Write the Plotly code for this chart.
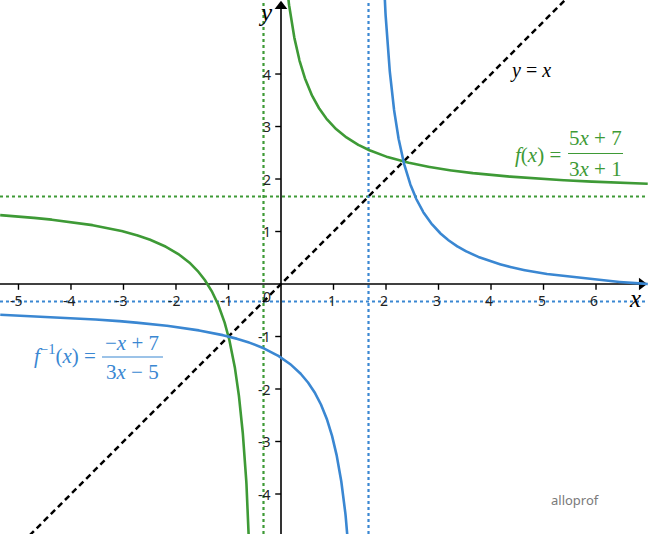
import numpy as np
import plotly.graph_objects as go

# Function coefficients (as shown in the labels)
f_num = [5, 7]      # 5x + 7
f_den = [3, 1]      # 3x + 1
finv_num = [-1, 7]  # -x + 7
finv_den = [3, -5]  # 3x - 5

x_ticks = [-5, -4, -3, -2, -1, 1, 2, 3, 4, 5, 6]
y_ticks = [-4, -3, -2, -1, 1, 2, 3, 4]

X_RANGE = [-5.352, 6.990]
Y_RANGE = [-4.762, 5.410]

GREEN = "#3e9a36"
BLUE = "#3a87d2"
BLACK = "#000000"


def rational_curve(num, den, xmin, xmax, ylim=40, n=1500):
    a, b = num
    c, d = den
    asym = -d / c
    xs_all, ys_all = [], []
    for lo, hi in [(xmin, asym), (asym, xmax)]:
        xs = np.linspace(lo, hi, n)[1:-1]
        ys = (a * xs + b) / (c * xs + d)
        m = np.abs(ys) < ylim
        xs_all += list(xs[m]) + [None]
        ys_all += list(ys[m]) + [None]
    return xs_all, ys_all


fig = go.Figure()

# asymptotes
fh = f_num[0] / f_den[0]
fv = -f_den[1] / f_den[0]
gh = finv_num[0] / finv_den[0]
gv = -finv_den[1] / finv_den[0]
dot = dict(width=2.2, dash="dot")
fig.add_trace(go.Scatter(x=[fv, fv], y=Y_RANGE, mode="lines", line=dict(color=GREEN, **dot), hoverinfo="skip"))
fig.add_trace(go.Scatter(x=X_RANGE, y=[fh, fh], mode="lines", line=dict(color=GREEN, **dot), hoverinfo="skip"))
fig.add_trace(go.Scatter(x=[gv, gv], y=Y_RANGE, mode="lines", line=dict(color=BLUE, **dot), hoverinfo="skip"))
fig.add_trace(go.Scatter(x=X_RANGE, y=[gh, gh], mode="lines", line=dict(color=BLUE, **dot), hoverinfo="skip"))

# axes
fig.add_trace(go.Scatter(x=[X_RANGE[0], X_RANGE[1] - 0.05], y=[0, 0], mode="lines",
                         line=dict(color=BLACK, width=1.6), hoverinfo="skip"))
fig.add_trace(go.Scatter(x=[0, 0], y=[Y_RANGE[0], Y_RANGE[1] - 0.05], mode="lines",
                         line=dict(color=BLACK, width=1.6), hoverinfo="skip"))
fig.add_trace(go.Scatter(x=[X_RANGE[1] - 0.12], y=[0], mode="markers", cliponaxis=False,
                         marker=dict(symbol="triangle-right", size=11, color=BLACK), hoverinfo="skip"))
fig.add_trace(go.Scatter(x=[0], y=[Y_RANGE[1] - 0.12], mode="markers", cliponaxis=False,
                         marker=dict(symbol="triangle-up", size=11, color=BLACK), hoverinfo="skip"))

# y = x
fig.add_trace(go.Scatter(x=[-6, 7], y=[-6, 7], mode="lines",
                         line=dict(color=BLACK, width=2.5, dash="6px,4px"), hoverinfo="skip"))

# curves
fx, fy = rational_curve(f_num, f_den, X_RANGE[0], X_RANGE[1])
fig.add_trace(go.Scatter(x=fx, y=fy, mode="lines", line=dict(color=GREEN, width=2.6), hoverinfo="skip"))
gx, gy = rational_curve(finv_num, finv_den, X_RANGE[0], X_RANGE[1])
fig.add_trace(go.Scatter(x=gx, y=gy, mode="lines", line=dict(color=BLUE, width=2.6), hoverinfo="skip"))

ann = []
shapes = []

tick_font = dict(family="Noto Sans, sans-serif", size=14, color="#222")
for t in x_ticks:
    shapes.append(dict(type="line", xref="x", yref="y", x0=t, x1=t, y0=0, y1=-0.11,
                       line=dict(color=BLACK, width=1.4)))
    ann.append(dict(x=t - 0.03, y=-0.31, xref="x", yref="y", text=("-%d" % -t) if t < 0 else str(t),
                    showarrow=False, font=tick_font, xanchor="center", yanchor="middle"))
for t in y_ticks:
    shapes.append(dict(type="line", xref="x", yref="y", x0=0, x1=-0.11, y0=t, y1=t,
                       line=dict(color=BLACK, width=1.4)))
    ann.append(dict(x=-0.15, y=t, xref="x", yref="y", text=("-%d" % -t) if t < 0 else str(t),
                    showarrow=False, font=tick_font, xanchor="right", yanchor="middle"))
ann.append(dict(x=-0.27, y=-0.23, xref="x", yref="y", text="0", showarrow=False,
                font=tick_font, xanchor="center", yanchor="middle"))

math_font = "Liberation Serif, serif"
ann.append(dict(x=-0.30, y=5.18, xref="x", yref="y", text="<i>y</i>", showarrow=False,
                font=dict(family=math_font, size=25, color=BLACK)))
ann.append(dict(x=6.75, y=-0.27, xref="x", yref="y", text="<i>x</i>", showarrow=False,
                font=dict(family=math_font, size=25, color=BLACK)))

ann.append(dict(x=4.743, y=4.076, xref="x", yref="y", text="<i>y</i> = <i>x</i>", showarrow=False,
                font=dict(family=math_font, size=20, color=BLACK)))

# f(x) label
lf = dict(family=math_font, size=21, color=GREEN)
ann.append(dict(x=5.37, y=2.457, xref="x", yref="y", text="<i>f</i>(<i>x</i>) =", showarrow=False,
                font=lf, xanchor="right", yanchor="middle"))
ann.append(dict(x=5.99, y=2.78, xref="x", yref="y", text="5<i>x</i> + 7", showarrow=False,
                font=lf, xanchor="center", yanchor="middle"))
ann.append(dict(x=5.99, y=2.20, xref="x", yref="y", text="3<i>x</i> + 1", showarrow=False,
                font=lf, xanchor="center", yanchor="middle"))
shapes.append(dict(type="line", xref="x", yref="y", x0=5.467, x1=6.514, y0=2.486, y1=2.486,
                   line=dict(color=GREEN, width=1.2)))

# f^-1(x) label
lg = dict(family=math_font, size=21, color=BLUE)
ann.append(dict(x=-3.49, y=-1.352, xref="x", yref="y", text="<i>f</i><sup>−1</sup>(<i>x</i>) =",
                showarrow=False, font=lg, xanchor="right", yanchor="middle"))
ann.append(dict(x=-2.83, y=-1.12, xref="x", yref="y", text="−<i>x</i> + 7", showarrow=False,
                font=lg, xanchor="center", yanchor="middle"))
ann.append(dict(x=-2.83, y=-1.68, xref="x", yref="y", text="3<i>x</i> − 5", showarrow=False,
                font=lg, xanchor="center", yanchor="middle"))
shapes.append(dict(type="line", xref="x", yref="y", x0=-3.41, x1=-2.248, y0=-1.39, y1=-1.39,
                   line=dict(color=BLUE, width=1.2)))

# logo
ann.append(dict(x=0.929, y=0.043, xref="paper", yref="paper", text="alloprof", showarrow=False,
                font=dict(family="Noto Sans, sans-serif", size=13, color="#7a7a7a")))

fig.update_layout(
    width=648, height=534,
    margin=dict(l=0, r=0, t=0, b=0),
    paper_bgcolor="white", plot_bgcolor="white",
    showlegend=False,
    xaxis=dict(range=X_RANGE, visible=False, fixedrange=True),
    yaxis=dict(range=Y_RANGE, visible=False, fixedrange=True),
    annotations=ann, shapes=shapes,
)

fig.write_html("out.html", config={"displayModeBar": False},
               post_script="document.body.style.margin='0';document.body.style.overflow='hidden';")
